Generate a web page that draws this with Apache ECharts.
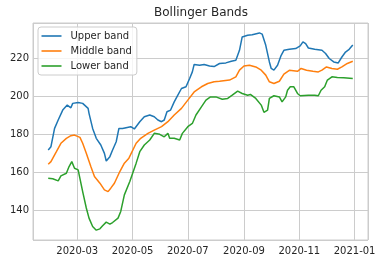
<!DOCTYPE html>
<html>
<head>
<meta charset="utf-8">
<script src="https://cdn.jsdelivr.net/npm/echarts@6/dist/echarts.min.js"></script>
<style>html,body{margin:0;padding:0;background:#fff;}#c{width:382px;height:264px;}</style>
</head>
<body>
<div id="c"></div>
<script>
const seriesNames = ['Upper band', 'Middle band', 'Lower band'];

const upperDates = ['2020-01-29','2020-02-01','2020-02-05','2020-02-09','2020-02-14','2020-02-19','2020-02-23','2020-02-25','2020-03-02','2020-03-07','2020-03-13','2020-03-14','2020-03-18','2020-03-22','2020-03-27','2020-03-31','2020-04-02','2020-04-06','2020-04-09','2020-04-13','2020-04-16','2020-04-20','2020-04-22','2020-04-29','2020-05-03','2020-05-09','2020-05-14','2020-05-20','2020-05-25','2020-05-29','2020-06-02','2020-06-05','2020-06-08','2020-06-12','2020-06-16','2020-06-20','2020-06-24','2020-06-29','2020-07-03','2020-07-06','2020-07-08','2020-07-14','2020-07-19','2020-07-25','2020-07-30','2020-08-05','2020-08-12','2020-08-18','2020-08-23','2020-08-27','2020-08-30','2020-09-05','2020-09-10','2020-09-18','2020-09-21','2020-09-25','2020-09-29','2020-10-01','2020-10-04','2020-10-08','2020-10-12','2020-10-15','2020-10-21','2020-10-28','2020-11-02','2020-11-05','2020-11-08','2020-11-11','2020-11-18','2020-11-26','2020-11-30','2020-12-04','2020-12-09','2020-12-14','2020-12-18','2020-12-22','2020-12-26','2020-12-30'];
const upperValues = [171.8,173.5,183.1,187.5,192.7,195.3,193.9,196.2,196.7,196.2,193.6,191.0,183.1,177.9,174.4,170.0,166.0,168.3,171.8,176.1,183.1,183.1,184.0,184.0,182.8,186.6,189.2,190.1,189.2,187.5,186.6,187.5,191.8,192.7,197.0,200.5,204.0,204.9,209.2,212.7,216.6,216.2,216.6,215.8,215.5,217.1,217.4,218.3,218.8,224.0,231.0,231.9,232.2,233.1,232.5,226.6,217.9,214.5,213.6,216.2,221.4,224.0,224.5,224.9,226.3,228.4,227.5,225.2,224.5,224.0,222.3,219.7,217.9,217.4,220.5,223.1,224.5,226.8];

const middleDates = ['2020-01-29','2020-02-01','2020-02-07','2020-02-12','2020-02-18','2020-02-23','2020-02-27','2020-03-04','2020-03-07','2020-03-11','2020-03-16','2020-03-20','2020-03-26','2020-03-31','2020-04-04','2020-04-07','2020-04-11','2020-04-17','2020-04-22','2020-04-27','2020-05-05','2020-05-10','2020-05-18','2020-05-25','2020-06-02','2020-06-09','2020-06-16','2020-06-24','2020-07-01','2020-07-08','2020-07-16','2020-07-23','2020-07-30','2020-08-05','2020-08-16','2020-08-23','2020-08-27','2020-09-01','2020-09-07','2020-09-14','2020-09-20','2020-09-25','2020-09-29','2020-10-04','2020-10-10','2020-10-15','2020-10-21','2020-10-30','2020-11-03','2020-11-09','2020-11-16','2020-11-22','2020-11-26','2020-12-01','2020-12-07','2020-12-13','2020-12-18','2020-12-24','2020-12-30'];
const middleValues = [164.3,165.7,170.9,175.3,177.9,179.3,179.6,178.4,175.3,170.1,163.1,157.9,154.4,150.9,150.0,151.8,154.4,160.5,164.9,167.5,175.3,177.9,180.5,182.2,184.0,186.6,190.1,193.6,197.9,202.2,204.9,206.6,207.5,207.8,208.4,210.1,213.6,215.8,216.2,215.3,213.6,211.0,207.5,206.6,207.8,211.5,213.5,213.0,214.5,213.6,213.0,212.7,213.6,215.3,214.5,214.1,215.3,217.1,218.3];

const lowerDates = ['2020-01-29','2020-02-03','2020-02-09','2020-02-12','2020-02-18','2020-02-21','2020-02-24','2020-02-27','2020-03-02','2020-03-07','2020-03-11','2020-03-14','2020-03-18','2020-03-22','2020-03-26','2020-03-29','2020-04-02','2020-04-06','2020-04-09','2020-04-15','2020-04-18','2020-04-22','2020-04-28','2020-05-05','2020-05-09','2020-05-14','2020-05-20','2020-05-25','2020-05-31','2020-06-05','2020-06-09','2020-06-11','2020-06-16','2020-06-22','2020-06-25','2020-07-01','2020-07-06','2020-07-10','2020-07-16','2020-07-21','2020-07-26','2020-08-01','2020-08-08','2020-08-14','2020-08-19','2020-08-25','2020-08-30','2020-09-05','2020-09-08','2020-09-14','2020-09-20','2020-09-23','2020-09-27','2020-09-29','2020-10-04','2020-10-10','2020-10-13','2020-10-17','2020-10-19','2020-10-22','2020-10-26','2020-10-30','2020-11-02','2020-11-11','2020-11-18','2020-11-22','2020-11-25','2020-11-29','2020-12-02','2020-12-07','2020-12-13','2020-12-20','2020-12-30'];
const lowerValues = [157.0,156.7,155.6,158.2,159.6,163.1,165.7,162.2,161.4,150.0,141.4,136.1,131.7,129.8,130.5,132.1,134.0,133.0,133.8,136.1,139.6,148.3,155.3,164.9,170.9,174.4,177.0,180.5,180.0,178.7,180.5,177.9,177.9,177.0,180.5,184.0,185.7,190.1,194.4,197.9,199.6,199.6,198.4,198.8,200.5,202.6,201.4,200.5,200.9,198.8,195.3,191.5,192.7,198.8,200.2,199.6,197.0,199.6,203.1,204.9,204.9,201.4,200.2,200.5,200.5,200.2,203.1,204.9,208.4,210.1,209.8,209.6,209.2];

const titleText = 'Bollinger Bands';
const colors = ['#1f77b4', '#ff7f0e', '#2ca02c'];

function pairs(dates, vals) { return dates.map((d, i) => [d, vals[i]]); }

const FONT = 'DejaVu Sans';
const TXT = '#262626';
const GRIDC = '#cccccc';

const chart = echarts.init(document.getElementById('c'), null, { renderer: 'canvas' });
chart.setOption({
  animation: false,
  backgroundColor: '#ffffff',
  color: colors,
  title: {
    text: titleText,
    left: 154, top: 7, padding: 0,
    textStyle: { fontFamily: FONT, fontSize: 12, fontWeight: 'normal', color: TXT }
  },
  legend: {
    orient: 'vertical',
    left: 38, top: 27,
    padding: [2.5, 5, 2.5, 3.5],
    itemGap: 2,
    itemWidth: 20, itemHeight: 1.6,
    icon: 'rect',
    backgroundColor: 'rgba(255,255,255,0.8)',
    borderColor: GRIDC, borderWidth: 1, borderRadius: 3,
    textStyle: { fontFamily: FONT, fontSize: 10, color: TXT, lineHeight: 13, padding: [0, 0, 0, 4] },
    data: seriesNames
  },
  grid: { left: 33, right: 14, top: 23, bottom: 24, show: true, borderColor: GRIDC, borderWidth: 1, containLabel: false },
  xAxis: {
    type: 'time',
    min: new Date(2020, 0, 12, 4, 48).getTime(),
    max: new Date(2021, 0, 15, 19, 12).getTime(),
    axisLine: { show: false },
    axisTick: { show: false },
    splitLine: { show: true, lineStyle: { color: GRIDC, width: 1 } },
    axisLabel: {
      fontFamily: FONT, fontSize: 10, color: TXT, margin: 6,
      showMinLabel: false, showMaxLabel: false, hideOverlap: false,
      formatter: function (v) { const d = new Date(v); return d.getFullYear() + '-' + String(d.getMonth() + 1).padStart(2, '0'); }
    }
  },
  yAxis: {
    type: 'value',
    min: 124.65, max: 238.3,
    splitNumber: 5,
    axisLine: { show: false },
    axisTick: { show: false },
    splitLine: { show: true, lineStyle: { color: GRIDC, width: 1 } },
    axisLabel: { fontFamily: FONT, fontSize: 10, color: TXT, margin: 4, showMinLabel: false, showMaxLabel: false }
  },
  series: [
    { name: seriesNames[0], type: 'line', data: pairs(upperDates, upperValues), symbol: 'none', showSymbol: false, lineStyle: { width: 1.5 } },
    { name: seriesNames[1], type: 'line', data: pairs(middleDates, middleValues), symbol: 'none', showSymbol: false, lineStyle: { width: 1.5 } },
    { name: seriesNames[2], type: 'line', data: pairs(lowerDates, lowerValues), symbol: 'none', showSymbol: false, lineStyle: { width: 1.5 } }
  ]
});
</script>
</body>
</html>
